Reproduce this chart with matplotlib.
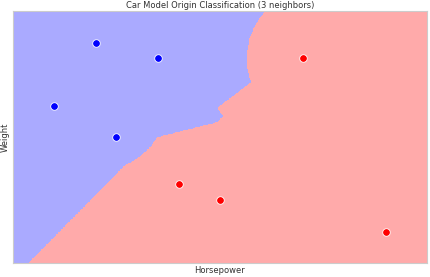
import matplotlib
matplotlib.use("Agg")
import matplotlib.pyplot as plt
from matplotlib.colors import ListedColormap
import numpy as np

# Training points (scaled units)
blue_x = [2.0, 3.5, 1.0, 2.5]
blue_y = [7.0, 6.5, 5.0, 4.0]
red_x = [7.0, 4.0, 5.0, 9.0]
red_y = [6.5, 2.5, 2.0, 1.0]
n_neighbors = 3

X = np.array(list(zip(red_x + blue_x, red_y + blue_y)))
y = np.array([0] * len(red_x) + [1] * len(blue_x))

cmap_light = ListedColormap(['#FFAAAA', '#AAAAFF'])

# mesh for decision regions
h = 0.02
x_min, x_max = X[:, 0].min() - 1, X[:, 0].max() + 1
y_min, y_max = X[:, 1].min() - 1, X[:, 1].max() + 1
xx, yy = np.meshgrid(np.arange(x_min, x_max + h, h), np.arange(y_min, y_max + h, h))
grid = np.c_[xx.ravel(), yy.ravel()]

# k-nearest-neighbour vote, weighted by inverse distance
d = np.sqrt(((grid[:, None, :] - X[None, :, :]) ** 2).sum(axis=2))
nearest = np.argsort(d, axis=1)[:, :n_neighbors]
w = 1.0 / np.maximum(np.take_along_axis(d, nearest, axis=1), 1e-9)
blue_w = (w * (y[nearest] == 1)).sum(axis=1)
red_w = (w * (y[nearest] == 0)).sum(axis=1)
Z = (blue_w > red_w).astype(int).reshape(xx.shape)

fig = plt.figure(figsize=(4.3, 2.77), dpi=100)
ax = fig.add_axes([0.030, 0.0505, 0.963, 0.9095])
ax.pcolormesh(xx, yy, Z, cmap=cmap_light, shading='auto')
ax.scatter(blue_x, blue_y, c='#0000FF', edgecolor='w', linewidth=0.6, s=30, zorder=3)
ax.scatter(red_x, red_y, c='#FF0000', edgecolor='w', linewidth=0.6, s=30, zorder=3)
ax.set_xlim(x_min, x_max)
ax.set_ylim(y_min, y_max)
ax.set_xticks([])
ax.set_yticks([])
for s in ax.spines.values():
    s.set_color('#cccccc')
    s.set_linewidth(0.8)
ax.set_title("Car Model Origin Classification (3 neighbors)", fontsize=6, color='#333333', pad=2.5)
ax.set_xlabel("Horsepower", fontsize=6, color='#333333', labelpad=2.5)
ax.set_ylabel("Weight", fontsize=6, color='#333333', labelpad=2.5)

fig.savefig("out.png", dpi=100)
